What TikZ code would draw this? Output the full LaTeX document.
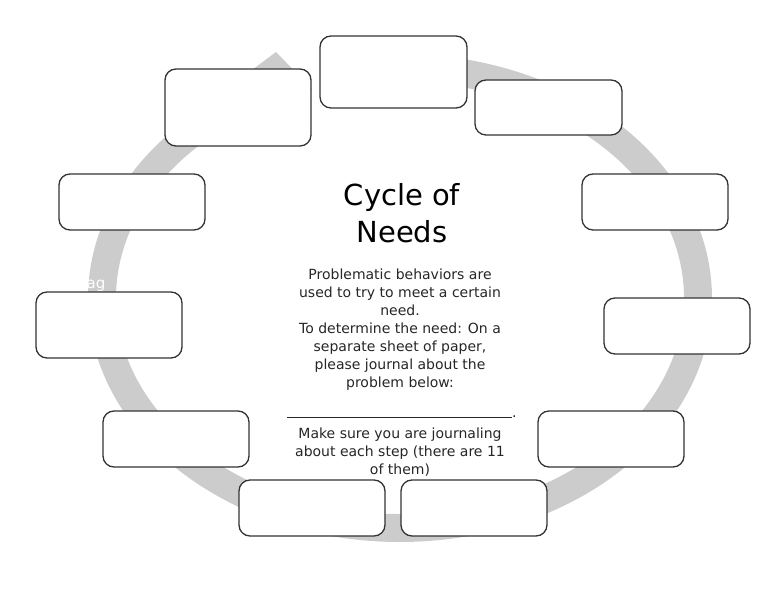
\documentclass[tikz,border=0pt]{standalone}
\usepackage{fontspec}
\setmainfont{DejaVu Sans}
\begin{document}
\begin{tikzpicture}[x=1pt,y=1pt,
  box/.style={draw=black!80,line width=1.3pt,fill=white,rounded corners=11pt},
  band/.style={draw=black!20,line width=28pt},
  body/.style={font=\fontsize{14}{18}\selectfont,text=black!85,align=center}]
\useasboundingbox (0,0) rectangle (768,594);
\coordinate (c) at (400,296);
\draw[band] ([shift={(95:298 and 230)}]c) arc[start angle=95,end angle=-232,x radius=298,y radius=230];
\fill[black!20] (276,542) -- (312,505) -- (180,470) -- cycle;
\node[text=white,font=\fontsize{15}{18}\selectfont,anchor=west] (vag) at (74,309) {Vag};
% centre texts
\node[font=\fontsize{29}{37}\selectfont,align=center] (title) at (402,381) {Cycle of\\Needs};
\node[body] (txt) at (400,264) {Problematic behaviors are\\used to try to meet a certain\\need.\\To determine the need: On a\\separate sheet of paper,\\please journal about the\\problem below:};
\coordinate (la) at (287,177);
\coordinate (lb) at (512,177);
\draw[black!85,line width=0.8pt] (la) -- (lb);
\node[body,anchor=west,inner sep=0] (dot) at (lb) {.};
\begin{scope}
\clip (250,118) rectangle (560,172);
\node[body,anchor=north] (txt2) at (400,170) {Make sure you are journaling\\about each step (there are 11\\of them)};
\end{scope}
% boxes
\path[box] (320,486) rectangle (467,558);
\path[box] (475,459) rectangle (622,514);
\path[box] (165,448) rectangle (311,525);
\path[box] (582,364) rectangle (728,420);
\path[box] (59,364) rectangle (205,420);
\path[box] (604,240) rectangle (750,296);
\path[box] (36,236) rectangle (182,302);
\path[box] (538,127) rectangle (684,183);
\path[box] (103,127) rectangle (249,183);
\path[box] (239,58) rectangle (385,114);
\path[box] (401,58) rectangle (547,114);
\end{tikzpicture}
\end{document}
